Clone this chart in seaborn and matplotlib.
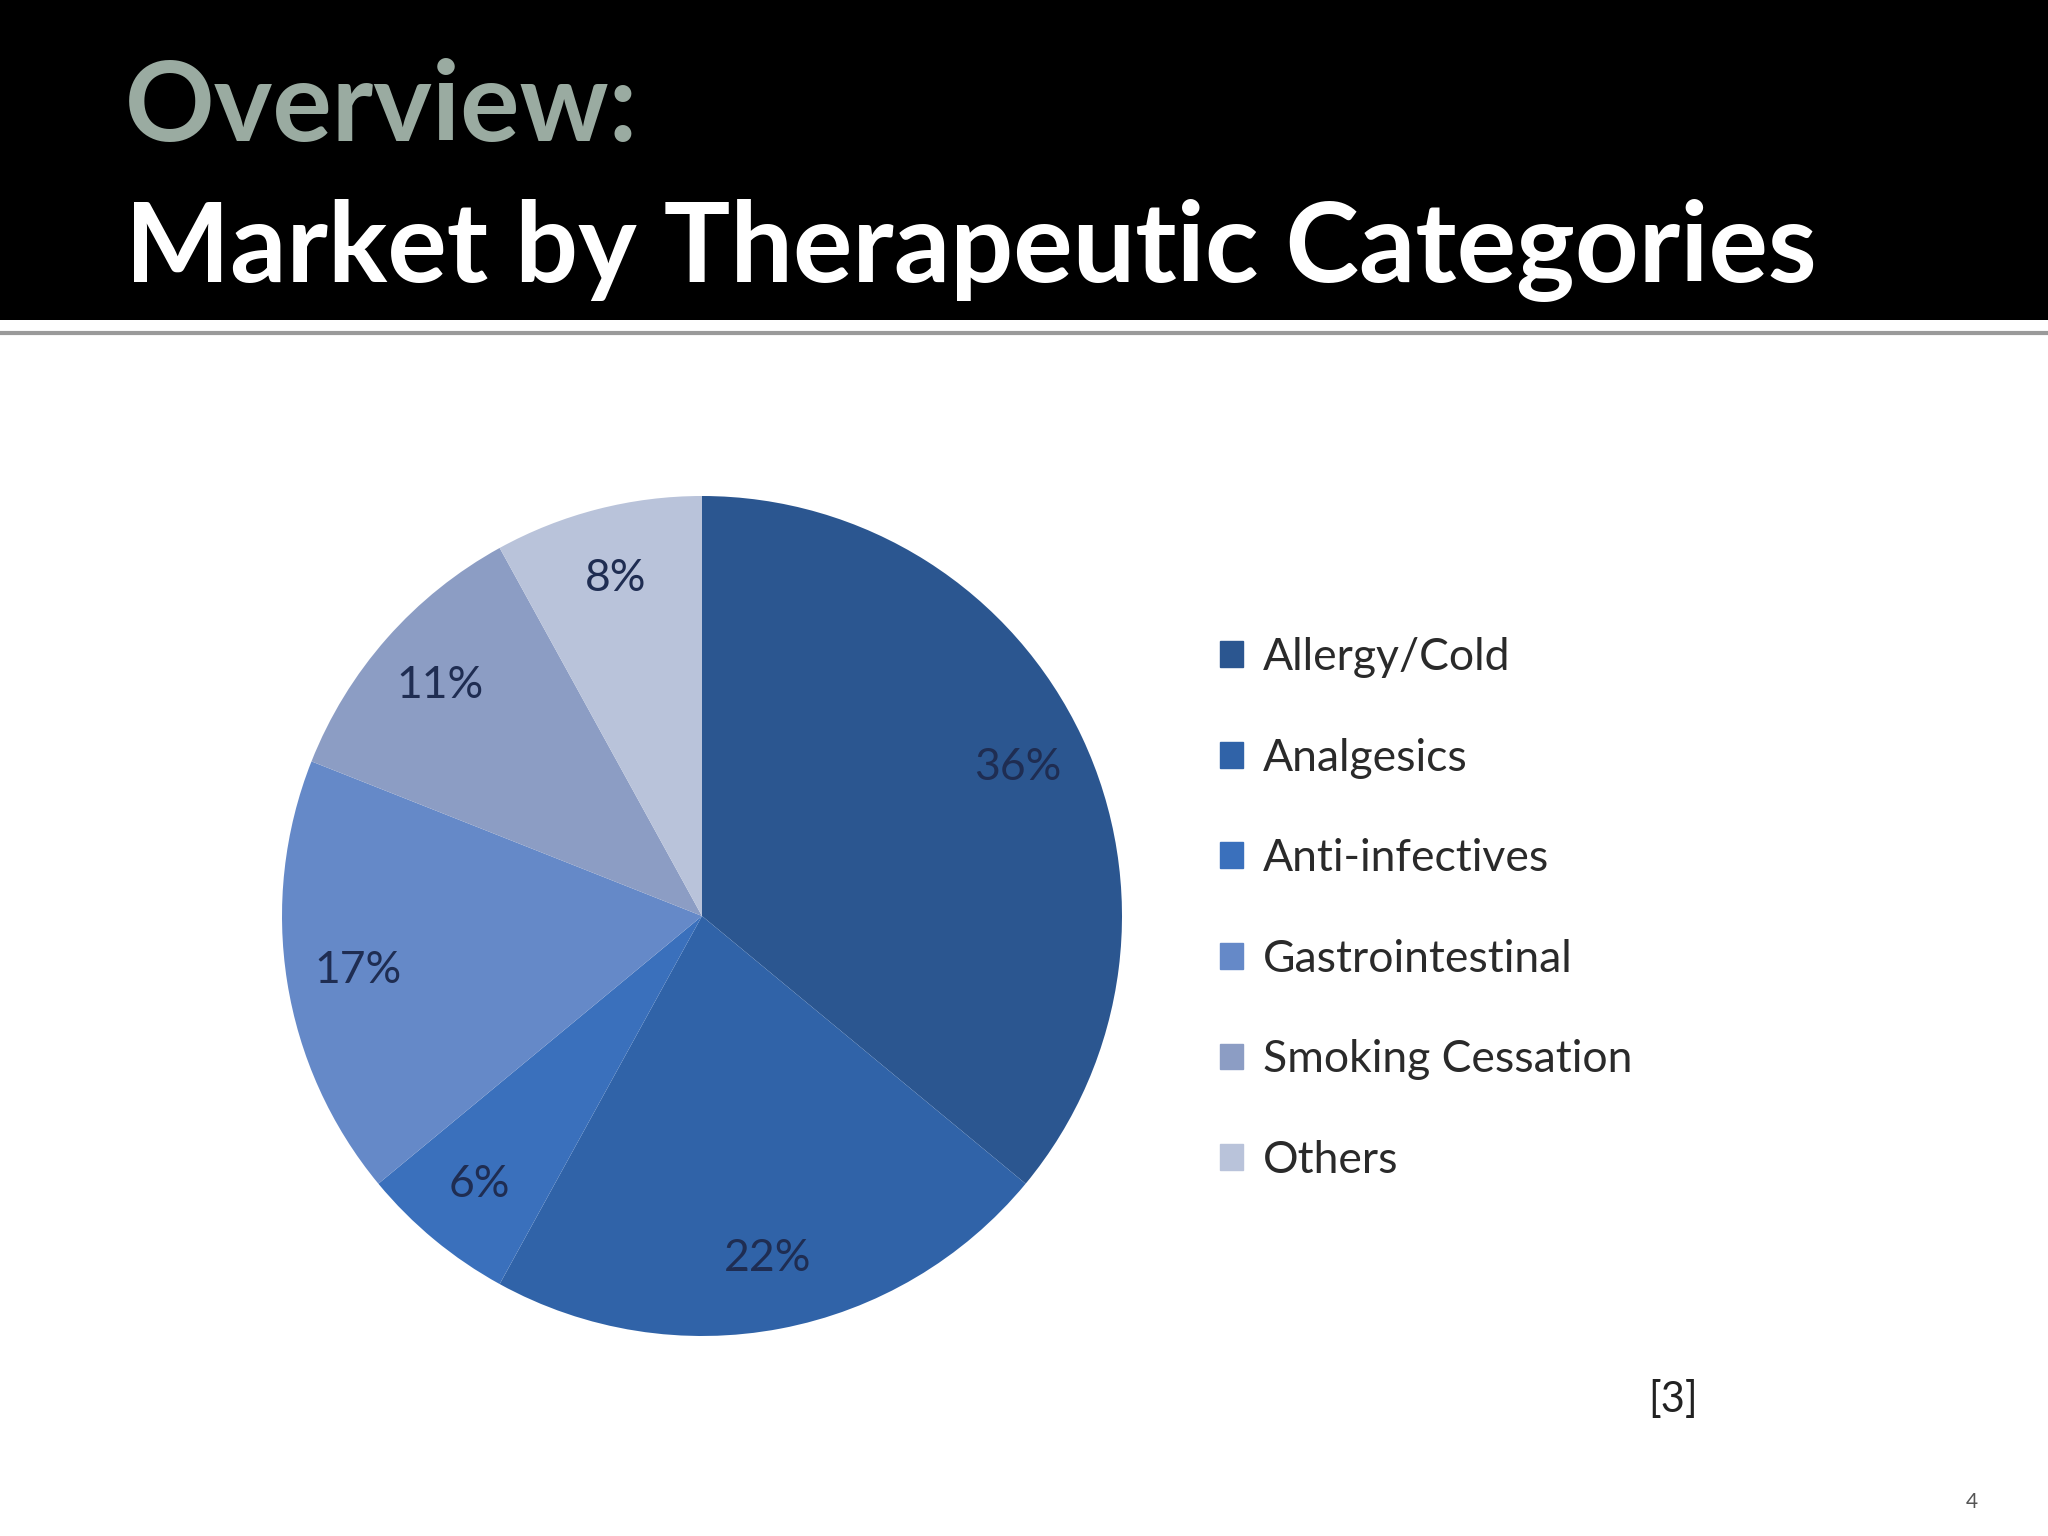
import matplotlib
matplotlib.use("Agg")
import matplotlib.pyplot as plt
import matplotlib.patches as mpatches
import seaborn as sns

# dados do grafico
categorias = ["Allergy/Cold", "Analgesics", "Anti-infectives",
              "Gastrointestinal", "Smoking Cessation", "Others"]
percentuais = [36, 22, 6, 17, 11, 8]
cores = ["#2b5690", "#3063a8", "#3a70bc", "#6589c8", "#8c9dc4", "#b9c3da"]

titulo_1 = "Overview:"
titulo_2 = "Market by Therapeutic Categories"
referencia = "[3]"
pagina = "4"

sns.set_theme(style="white")
plt.rcParams["font.family"] = ["Lato", "DejaVu Sans"]

fig = plt.figure(figsize=(20.48, 15.36), dpi=100)
fig.patch.set_facecolor("white")

# faixa preta do titulo
fundo = fig.add_axes([0, 1 - 320 / 1536, 1, 320 / 1536])
fundo.set_facecolor("black")
fundo.set_xticks([])
fundo.set_yticks([])
for s in fundo.spines.values():
    s.set_visible(False)

# linha cinza abaixo da faixa
fig.add_artist(plt.Line2D([0, 1], [1 - 333 / 1536] * 2, color="#9a9a9a", linewidth=3))

fig.text(125 / 2048, 1 - 141 / 1536, titulo_1, color="#9aaba1", fontsize=80,
         fontweight="bold", ha="left", va="baseline")
fig.text(125 / 2048, 1 - 282 / 1536, titulo_2, color="white", fontsize=80,
         fontweight="bold", ha="left", va="baseline")

# pizza
ax = fig.add_axes([282 / 2048, 1 - 1336 / 1536, 840 / 2048, 840 / 1536])
fatias, textos, autotextos = ax.pie(
    percentuais, colors=cores, startangle=90, counterclock=False,
    autopct="%d%%", pctdistance=0.83, radius=1.0,
    wedgeprops=dict(linewidth=0),
    textprops=dict(color="#1f2d52", fontsize=32))
ax.set_xlim(-1.0, 1.0)
ax.set_ylim(-1.0, 1.0)
ax.set_aspect("equal")

handles = [mpatches.Patch(color=c, label=l) for c, l in zip(cores, categorias)]
fig.legend(handles=handles, loc="upper left",
           bbox_to_anchor=(1220 / 2048, 1 - 637 / 1536),
           frameon=False, fontsize=32, labelcolor="#2a2a2a",
           handlelength=0.52, handleheight=0.52, handletextpad=0.45,
           labelspacing=1.34, borderpad=0, borderaxespad=0)

fig.text(1648 / 2048, 1 - 1412 / 1536, referencia, fontsize=30, color="#222222",
         ha="left", va="baseline")
fig.text(1972 / 2048, 1 - 1508 / 1536, pagina, fontsize=15, color="#555555",
         ha="center", va="baseline")

plt.savefig("out.png", dpi=100)
